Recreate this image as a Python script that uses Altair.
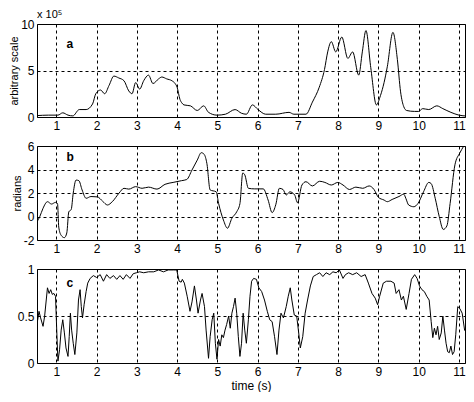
import altair as alt
import pandas as pd

# ---------------- data ----------------
# panel a: arbitrary scale (x 10^5)
t_a = [0.52, 0.8, 1.04, 1.16, 1.29, 1.41, 1.57, 1.74, 1.9, 1.98, 2.1, 2.2, 2.31, 2.43, 2.55,
       2.68, 2.8, 2.88, 2.97, 3.07, 3.17, 3.29, 3.4, 3.54, 3.62, 3.74, 3.87, 3.95, 4.0, 4.07,
       4.12, 4.17, 4.33, 4.5, 4.66, 4.78, 4.99, 5.2, 5.44, 5.6, 5.72, 5.87, 6.01, 6.2, 6.45,
       6.78, 6.9, 7.03, 7.2, 7.36, 7.53, 7.66, 7.74, 7.83, 7.94, 8.09, 8.24, 8.36, 8.51, 8.6,
       8.69, 8.81, 8.95, 9.05, 9.14, 9.22, 9.36, 9.47, 9.55, 9.63, 9.7, 9.9, 10.0, 10.1, 10.25,
       10.45, 10.6, 10.8, 11.0, 11.2]
v_a = [0.15, 0.2, 0.2, 0.45, 0.2, 0.12, 0.8, 0.8, 1.4, 2.5, 2.9, 2.5, 3.4, 4.4, 4.2,
       3.9, 2.8, 2.5, 3.7, 3.0, 3.9, 4.5, 3.6, 4.1, 4.3, 4.1, 3.9, 3.6, 3.2, 1.9,
       1.5, 1.3, 1.2, 0.7, 1.2, 0.5, 0.2, 0.3, 0.8, 0.4, 0.3, 1.3, 0.8, 0.3, 0.3,
       0.5, 0.3, 0.3, 0.3, 1.6, 3.2, 5.1, 7.0, 8.1, 7.0, 8.6, 6.3, 7.0, 4.5, 7.0,
       9.3, 5.3, 1.3, 2.3, 3.7, 5.4, 9.1, 6.2, 2.7, 1.1, 0.7, 0.6, 0.6, 0.9, 0.8,
       1.2, 0.9, 0.5, 0.2, 0.1]

# panel b: radians
t_b = [0.52, 0.59, 0.67, 0.78, 0.88, 0.98, 1.03, 1.06, 1.12, 1.2, 1.26, 1.31, 1.37, 1.42, 1.49,
       1.56, 1.64, 1.74, 1.86, 2.02, 2.15, 2.27, 2.39, 2.56, 2.68, 2.8, 2.97, 3.13, 3.29, 3.5,
       3.7, 3.9, 4.11, 4.24, 4.37, 4.5, 4.6, 4.67, 4.74, 4.82, 4.97, 5.03, 5.15, 5.25, 5.36,
       5.48, 5.56, 5.63, 5.68, 5.77, 5.93, 6.14, 6.26, 6.36, 6.45, 6.54, 6.63, 6.71, 6.8, 6.92,
       6.99, 7.1, 7.2, 7.36, 7.54, 7.67, 7.83, 7.99, 8.12, 8.28, 8.44, 8.61, 8.77, 8.89, 9.0,
       9.14, 9.22, 9.34, 9.51, 9.63, 9.68, 9.75, 9.88, 9.98, 10.12, 10.25, 10.31, 10.41, 10.51, 10.61,
       10.7, 10.78, 10.9, 11.02, 11.12, 11.2]
v_b = [-0.45, 0.0, 0.7, 1.26, 1.06, 1.2, 1.1, -0.9, -1.6, -1.8, -1.4, 0.4, 0.6, 2.0, 3.1,
       3.05, 2.26, 1.55, 1.7, 1.67, 1.3, 0.98, 1.26, 2.0, 2.4, 2.33, 2.54, 2.4, 2.5, 2.33,
       2.74, 2.9, 3.05, 3.15, 3.96, 4.8, 5.43, 5.3, 4.5, 2.26, 2.1, 1.12, -0.3, -1.0, -0.15,
       0.4, 1.1, 3.7, 3.55, 2.4, 2.35, 2.35, 1.4, 0.33, 1.0, 2.4, 2.3, 1.83, 2.1, 1.83,
       1.17, 2.68, 2.96, 2.6, 3.0, 2.9, 2.68, 2.9, 2.68, 2.3, 2.5, 2.4, 2.6, 2.3, 1.63,
       1.4, 1.26, 1.45, 1.7, 1.9, 1.55, 0.98, 0.83, 1.1, 2.1, 2.9, 2.8, 1.55, 0.0, -1.1,
       -0.8, 1.1, 4.4, 5.4, 6.0, 6.5]

# panel c
t_c = [0.5, 0.53, 0.57, 0.61, 0.67, 0.71, 0.78, 0.82, 0.86, 0.9, 0.94, 0.98, 1.01, 1.04, 1.08,
       1.12, 1.16, 1.2, 1.24, 1.29, 1.32, 1.35, 1.38, 1.42, 1.46, 1.51, 1.55, 1.59, 1.62, 1.65,
       1.69, 1.74, 1.78, 1.84, 1.92, 2.0, 2.09, 2.17, 2.25, 2.33, 2.42, 2.5, 2.58, 2.66, 2.74,
       2.83, 2.91, 2.99, 3.07, 3.17, 3.29, 3.42, 3.54, 3.66, 3.78, 3.91, 3.99, 4.05, 4.1, 4.13,
       4.18, 4.25, 4.32, 4.37, 4.43, 4.48, 4.52, 4.58, 4.62, 4.68, 4.72, 4.78, 4.82, 4.87, 4.91,
       4.95, 4.99, 5.03, 5.07, 5.11, 5.15, 5.19, 5.23, 5.28, 5.32, 5.36, 5.4, 5.44, 5.48, 5.52,
       5.56, 5.6, 5.64, 5.68, 5.72, 5.77, 5.81, 5.85, 5.9, 5.97, 6.03, 6.1, 6.17, 6.24, 6.3,
       6.36, 6.42, 6.48, 6.53, 6.58, 6.64, 6.71, 6.76, 6.81, 6.85, 6.91, 6.97, 7.02, 7.06, 7.12,
       7.18, 7.24, 7.31, 7.38, 7.46, 7.54, 7.62, 7.7, 7.79, 7.87, 7.95, 8.03, 8.12, 8.18, 8.26,
       8.36, 8.46, 8.57, 8.67, 8.75, 8.84, 8.92, 8.98, 9.03, 9.12, 9.2, 9.31, 9.39, 9.44, 9.51,
       9.57, 9.62, 9.69, 9.76, 9.82, 9.9, 9.96, 10.02, 10.08, 10.14, 10.2, 10.26, 10.31, 10.35, 10.39,
       10.43, 10.47, 10.51, 10.56, 10.6, 10.64, 10.68, 10.72, 10.76, 10.8, 10.84, 10.88, 10.92, 10.97, 11.02,
       11.08, 11.14, 11.2]
v_c = [0.21, 0.44, 0.55, 0.48, 0.39, 0.5, 0.8, 0.74, 0.78, 0.73, 0.74, 0.71, 0.35, 0.02, 0.14,
       0.35, 0.46, 0.32, 0.16, 0.07, 0.28, 0.53, 0.35, 0.21, 0.09, 0.32, 0.67, 0.78, 0.6, 0.48,
       0.62, 0.76, 0.85, 0.9, 0.93, 0.91, 0.94, 0.87, 0.94, 0.9, 0.93, 0.89, 0.93, 0.89, 0.94,
       0.9, 0.95, 0.96, 0.97, 0.96, 0.97, 0.97, 0.99, 0.97, 0.99, 0.99, 0.99, 0.87, 0.86, 0.89,
       0.85, 0.71, 0.55, 0.65, 0.82, 0.67, 0.53, 0.67, 0.74, 0.6, 0.35, 0.05, 0.28, 0.46, 0.53,
       0.21, 0.04, 0.25, 0.18, 0.3, 0.27, 0.35, 0.41, 0.5, 0.37, 0.53, 0.6, 0.69, 0.53, 0.28,
       0.07, 0.21, 0.53, 0.35, 0.21, 0.46, 0.71, 0.87, 0.9, 0.89, 0.8, 0.76, 0.67, 0.55, 0.46,
       0.44, 0.28, 0.09, 0.35, 0.53, 0.48, 0.6, 0.71, 0.8, 0.67, 0.51, 0.5, 0.32, 0.16, 0.28,
       0.53, 0.67, 0.82, 0.92, 0.94, 0.96, 0.92, 0.96, 0.94, 0.97, 0.96, 0.99, 0.9, 0.94, 0.96,
       0.94, 0.96, 0.92, 0.94, 0.85, 0.74, 0.69, 0.62, 0.71, 0.85, 0.87, 0.87, 0.85, 0.74, 0.78,
       0.67, 0.71, 0.57, 0.74, 0.89, 0.94, 0.9, 0.82, 0.78, 0.76, 0.71, 0.67, 0.44, 0.27, 0.37,
       0.3, 0.39, 0.25, 0.32, 0.5, 0.35, 0.21, 0.12, 0.11, 0.18, 0.09, 0.12, 0.3, 0.6, 0.58,
       0.53, 0.35, 0.32]

x_ticks = [1, 2, 3, 4, 5, 6, 7, 8, 9, 10, 11]
x_domain = [0.52, 11.15]

panel_letters = ["a", "b", "c"]
letter_x = 1.25
letter_y = [7.9, 5.1, 0.85]

exp_text = "x 10\u2075"
exp_pos = (0.52, 11.6)

FONT = "Liberation Sans"
W = 428


def panel(t, v, ydomain, yticks, ytitle, letter, ly, xtitle, height, interp, extra=None):
    df = pd.DataFrame({"t": t, "v": v})
    xenc = alt.X("t:Q",
                 scale=alt.Scale(domain=x_domain, nice=False, zero=False),
                 axis=alt.Axis(values=x_ticks, labelFlush=False, format="d",
                               labelPadding=3, titlePadding=3, titleFontSize=12),
                 title=xtitle)
    yenc = alt.Y("v:Q",
                 scale=alt.Scale(domain=ydomain, nice=False, zero=False),
                 axis=alt.Axis(values=yticks, format="~r",
                               labelExpr="replace(datum.label, '\u2212', '-')",
                               labelPadding=3, titlePadding=1),
                 title=ytitle)
    line = alt.Chart(df).mark_line(color="black", strokeWidth=1, clip=True,
                                   interpolate=interp).encode(x=xenc, y=yenc)
    lab = alt.Chart(pd.DataFrame({"t": [letter_x], "v": [ly], "s": [letter]})).mark_text(
        font=FONT, fontSize=12, fontWeight="bold", color="black", align="left",
        baseline="middle").encode(x=xenc, y=yenc, text="s:N")
    layers = [line, lab]
    if extra is not None:
        ex = alt.Chart(pd.DataFrame({"t": [extra[0][0]], "v": [extra[0][1]], "s": [extra[1]]})).mark_text(
            font=FONT, fontSize=11, color="black", align="left", baseline="top"
        ).encode(x=xenc, y=yenc, text="s:N")
        layers.append(ex)
    return alt.layer(*layers).properties(width=W, height=height)


pa = panel(t_a, v_a, [0, 10], [0, 5, 10], "arbitrary scale", "a", letter_y[0], None, 93,
           "monotone", extra=(exp_pos, exp_text))
pb = panel(t_b, v_b, [-2, 6], [-2, 0, 2, 4, 6], "radians", "b", letter_y[1], None, 94,
           "monotone")
pc = panel(t_c, v_c, [0, 1], [0, 0.5, 1], None, "c", letter_y[2], "time (s)", 94, "linear")

chart = alt.vconcat(pa, pb, pc, spacing=7).properties(padding=0).configure_view(
    stroke="black", strokeWidth=1
).configure_axis(
    labelFont=FONT, labelFontSize=12, labelColor="black",
    titleFont=FONT, titleFontSize=11, titleFontWeight="normal", titleColor="black",
    grid=True, gridColor="black", gridDash=[3, 3], gridOpacity=1, gridWidth=1,
    domain=False, ticks=False
)

chart.save("out.html", embed_options={"renderer": "svg", "actions": False})
